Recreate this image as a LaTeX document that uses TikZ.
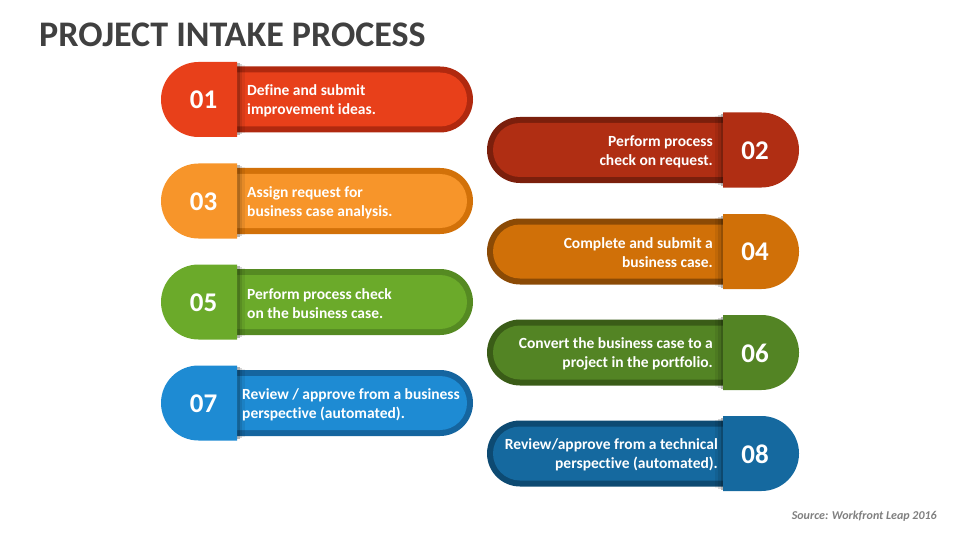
\documentclass[tikz,border=0pt]{standalone}
\usepackage{fontspec}
\setmainfont{Carlito}[Ligatures=NoCommon]
\definecolor{titlegray}{HTML}{404040}
\definecolor{srcgray}{HTML}{7F7F7F}
\definecolor{capA}{HTML}{E8401A}\definecolor{outA}{HTML}{B0290F}
\definecolor{capB}{HTML}{B02E13}\definecolor{outB}{HTML}{7B1F0C}
\definecolor{capC}{HTML}{F7952A}\definecolor{outC}{HTML}{D27109}
\definecolor{capD}{HTML}{D07008}\definecolor{outD}{HTML}{8B4A05}
\definecolor{capE}{HTML}{6BAA2A}\definecolor{outE}{HTML}{558A22}
\definecolor{capF}{HTML}{538424}\definecolor{outF}{HTML}{3A5C17}
\definecolor{capG}{HTML}{1E8BD3}\definecolor{outG}{HTML}{15659F}
\definecolor{capH}{HTML}{15699F}\definecolor{outH}{HTML}{0D4A72}
\tikzset{
  numtext/.style={text=white,font=\bfseries\fontsize{27}{27}\selectfont,inner sep=0pt},
  ltext/.style={text=white,font=\bfseries\fontsize{15.5}{19}\selectfont,align=left,anchor=west,inner sep=0pt},
  rtext/.style={text=white,font=\bfseries\fontsize{15.5}{19}\selectfont,align=right,anchor=east,inner sep=0pt},
}
\newcommand{\lpill}[7]{% name, y, cap, outer, num, text, text x
  \fill[#4] (230,#2-33) -- (440,#2-33) arc (-90:90:33) -- (230,#2+33) -- cycle;
  \fill[#3] (230,#2-27) -- (440,#2-27) arc (-90:90:27) -- (230,#2+27) -- cycle;
  \fill[black,opacity=0.30] (237,#2-36) rectangle (239.5,#2+36);
  \fill[black,opacity=0.16] (239.5,#2-35) rectangle (242,#2+35);
  \fill[black,opacity=0.07] (242,#2-34) rectangle (245,#2+34);
  \fill[#3] (237,#2-37.5) -- (198.5,#2-37.5) arc (270:90:37.5) -- (237,#2+37.5) -- cycle;
  \node[numtext] (n#1) at (203.5,#2+0.5) {#5};
  \node[ltext] (t#1) at (#7,#2+1.5) {#6};
}
\newcommand{\rpill}[7]{%
  \fill[#4] (730,#2-33) -- (520,#2-33) arc (270:90:33) -- (730,#2+33) -- cycle;
  \fill[#3] (730,#2-27) -- (520,#2-27) arc (270:90:27) -- (730,#2+27) -- cycle;
  \fill[black,opacity=0.30] (720.5,#2-36) rectangle (723,#2+36);
  \fill[black,opacity=0.16] (718,#2-35) rectangle (720.5,#2+35);
  \fill[black,opacity=0.07] (715,#2-34) rectangle (718,#2+34);
  \fill[#3] (723,#2-37.5) -- (761.5,#2-37.5) arc (-90:90:37.5) -- (723,#2+37.5) -- cycle;
  \node[numtext] (n#1) at (755,#2+0.5) {#5};
  \node[rtext] (t#1) at (#7,#2+1.5) {#6};
}
\begin{document}
\begin{tikzpicture}[x=1pt,y=-1pt]
\useasboundingbox (0,0) rectangle (960,540);
\node[anchor=west,inner sep=0pt,text=titlegray,font=\bfseries\fontsize{36}{36}\selectfont] (title) at (39,35) {PROJECT INTAKE PROCESS};
\lpill{1}{99.5}{capA}{outA}{01}{Define and submit\\improvement ideas.}{247}
\rpill{2}{150}{capB}{outB}{02}{Perform process\\check on request.}{713}
\lpill{3}{201}{capC}{outC}{03}{Assign request for\\business case analysis.}{247}
\rpill{4}{251.5}{capD}{outD}{04}{Complete and submit a\\business case.}{713}
\lpill{5}{302}{capE}{outE}{05}{Perform process check\\on the business case.}{247}
\rpill{6}{352.5}{capF}{outF}{06}{Convert the business case to a\\project in the portfolio.}{713}
\lpill{7}{403}{capG}{outG}{07}{Review / approve from a business\\perspective (automated).}{242}
\rpill{8}{453.5}{capH}{outH}{08}{Review/approve from a technical\\perspective (automated).}{718}
\node[anchor=east,inner sep=0pt,text=srcgray,font=\bfseries\itshape\fontsize{12}{14}\selectfont] (source) at (937,516) {Source: Workfront Leap 2016};
\end{tikzpicture}
\end{document}
